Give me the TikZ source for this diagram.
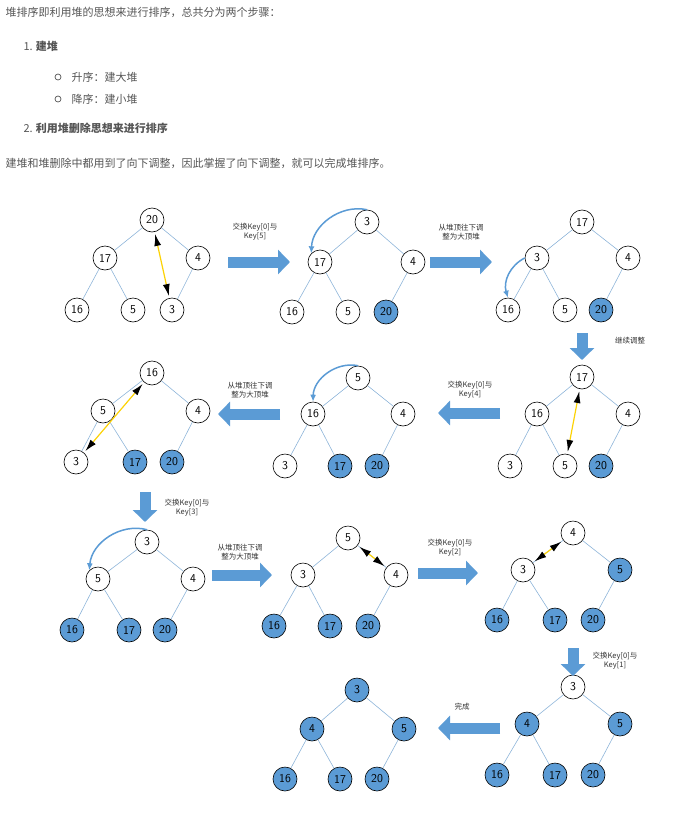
\documentclass[tikz,border=0pt]{standalone}
\usepackage{fontspec}
\newfontfamily\cjk{Noto Sans CJK SC}
\usetikzlibrary{arrows.meta}
\definecolor{bl}{HTML}{5B9BD5}
\definecolor{ed}{HTML}{8DB4D9}
\definecolor{tx}{HTML}{555555}
\newcommand{\edg}[1]{\draw[edge] (#11)--(#12) (#11)--(#13) (#12)--(#14) (#12)--(#15) (#13)--(#16);}
\begin{document}
\begin{tikzpicture}[x=1pt,y=-1pt,
  nd/.style={circle,draw=black,line width=0.6pt,fill=white,minimum size=24pt,inner sep=0pt,font=\fontsize{12}{12}\selectfont\sffamily},
  fd/.style={nd,fill=bl},
  edge/.style={ed,line width=0.6pt},
  big/.style={bl,line width=11pt,-{Triangle[length=12pt,width=24pt]}},
  lab/.style={font=\cjk\fontsize{7.5}{9}\selectfont,align=center,text=black!80},
  sw/.style={yellow!70!orange,line width=1.2pt,{Latex[black,length=12pt,width=7pt]}-{Latex[black,length=12pt,width=7pt]},shorten <=2pt,shorten >=2pt},
  cv/.style={bl,line width=1.5pt,-{Latex[length=7pt,width=6pt]}},
  bul/.style={circle,draw=tx,line width=0.7pt,minimum size=6pt,inner sep=0pt},
  t/.style={anchor=west,text=tx,font=\cjk\fontsize{11}{13}\selectfont}]
\useasboundingbox (0,0) rectangle (680,814);
\node[t] (l1) at (2,12) {堆排序即利用堆的思想来进行排序，总共分为两个步骤：};
\node[t] (l2) at (20,46) {1. \textbf{建堆}};
\node[bul] (b1x) at (58,77) {};
\node[t] (l3) at (68,77) {升序：建大堆};
\node[bul] (b2x) at (58,99) {};
\node[t] (l4) at (68,99) {降序：建小堆};
\node[t] (l5) at (20,128) {2. \textbf{利用堆删除思想来进行排序}};
\node[t] (l6) at (2,163) {建堆和堆删除中都用到了向下调整，因此掌握了向下调整，就可以完成堆排序。};
% T1
\node[nd] (a1) at (152,220) {20}; \node[nd] (a2) at (105,258) {17}; \node[nd] (a3) at (198,258) {4};
\node[nd] (a4) at (77,310) {16}; \node[nd] (a5) at (133,310) {5}; \node[nd] (a6) at (172,310) {3};
% T2
\node[nd] (b1) at (367,222) {3}; \node[nd] (b2) at (320,262) {17}; \node[nd] (b3) at (413,262) {4};
\node[nd] (b4) at (292,312) {16}; \node[nd] (b5) at (348,312) {5}; \node[fd] (b6) at (386,312) {20};
% T3
\node[nd] (c1) at (582,222) {17}; \node[nd] (c2) at (537,258) {3}; \node[nd] (c3) at (628,258) {4};
\node[nd] (c4) at (508,310) {16}; \node[nd] (c5) at (565,310) {5}; \node[fd] (c6) at (601,310) {20};
% T4
\node[nd] (d1) at (582,377) {17}; \node[nd] (d2) at (537,414) {16}; \node[nd] (d3) at (628,414) {4};
\node[nd] (d4) at (510,466) {3}; \node[nd] (d5) at (565,466) {5}; \node[fd] (d6) at (601,466) {20};
% T5
\node[nd] (e1) at (358,378) {5}; \node[nd] (e2) at (313,414) {16}; \node[nd] (e3) at (403,414) {4};
\node[nd] (e4) at (285,466) {3}; \node[fd] (e5) at (340,466) {17}; \node[fd] (e6) at (377,466) {20};
% T6
\node[nd] (f1) at (152,373) {16}; \node[nd] (f2) at (103,411) {5}; \node[nd] (f3) at (198,411) {4};
\node[nd] (f4) at (76,462) {3}; \node[fd] (f5) at (135,462) {17}; \node[fd] (f6) at (172,462) {20};
% T7
\node[nd] (g1) at (147,542) {3}; \node[nd] (g2) at (98,579) {5}; \node[nd] (g3) at (193,579) {4};
\node[fd] (g4) at (72,630) {16}; \node[fd] (g5) at (129,630) {17}; \node[fd] (g6) at (165,630) {20};
% T8
\node[nd] (h1) at (348,538) {5}; \node[nd] (h2) at (303,575) {3}; \node[nd] (h3) at (396,575) {4};
\node[fd] (h4) at (274,626) {16}; \node[fd] (h5) at (330,626) {17}; \node[fd] (h6) at (368,626) {20};
% T9
\node[nd] (i1) at (573,533) {4}; \node[nd] (i2) at (523,570) {3}; \node[fd] (i3) at (620,570) {5};
\node[fd] (i4) at (497,620) {16}; \node[fd] (i5) at (555,620) {17}; \node[fd] (i6) at (593,620) {20};
% T10
\node[nd] (j1) at (573,687) {3}; \node[fd] (j2) at (527,724) {4}; \node[fd] (j3) at (620,724) {5};
\node[fd] (j4) at (497,775) {16}; \node[fd] (j5) at (555,775) {17}; \node[fd] (j6) at (593,775) {20};
% T11
\node[fd] (k1) at (357,690) {3}; \node[fd] (k2) at (312,729) {4}; \node[fd] (k3) at (404,729) {5};
\node[fd] (k4) at (285,779) {16}; \node[fd] (k5) at (340,779) {17}; \node[fd] (k6) at (377,779) {20};
\foreach \p in {a,b,c,d,e,f,g,h,i,j,k}{\edg{\p}}
% swap arrows
\draw[sw] (a1) -- (a6);
\draw[sw] (d1) -- (d5);
\draw[sw] (f1) -- (f4);
\draw[sw] (h1) -- (h3);
\draw[sw] (i1) -- (i2);
% curved adjust arrows
\draw[cv] (b1.north) to[bend right=50] (b2.north west);
\draw[cv] (c2.west) to[bend right=40] (c4.north);
\draw[cv] (e1.north) to[bend right=50] (e2.north);
\draw[cv] (g1.north) to[bend right=50] (g2.north west);
% big arrows
\coordinate (s1) at (228,262); \coordinate (e1x) at (290,262);
\draw[big] (s1) -- (e1x);
\node[lab] (n1) at (255,232) {交换Key[0]与\\Key[5]};
\coordinate (s2) at (430,262); \coordinate (e2x) at (492,262);
\draw[big] (s2) -- (e2x);
\node[lab] (n2) at (461,232) {从堆顶往下调\\整为大顶堆};
\coordinate (s3) at (582,333); \coordinate (e3x) at (582,360);
\draw[big] (s3) -- (e3x);
\node[lab] (n3) at (630,341) {继续调整};
\coordinate (s4) at (500,413); \coordinate (e4x) at (438,413);
\draw[big] (s4) -- (e4x);
\node[lab] (n4) at (470,390) {交换Key[0]与\\Key[4]};
\coordinate (s5) at (280,414); \coordinate (e5x) at (218,414);
\draw[big] (s5) -- (e5x);
\node[lab] (n5) at (250,390) {从堆顶往下调\\整为大顶堆};
\coordinate (s6) at (145,492); \coordinate (e6x) at (145,522);
\draw[big] (s6) -- (e6x);
\node[lab] (n6) at (187,508) {交换Key[0]与\\Key[3]};
\coordinate (s7) at (212,575); \coordinate (e7x) at (272,575);
\draw[big] (s7) -- (e7x);
\node[lab] (n7) at (240,552) {从堆顶往下调\\整为大顶堆};
\coordinate (s8) at (418,573); \coordinate (e8x) at (478,573);
\draw[big] (s8) -- (e8x);
\node[lab] (n8) at (450,548) {交换Key[0]与\\Key[2]};
\coordinate (s9) at (573,648); \coordinate (e9x) at (573,676);
\draw[big] (s9) -- (e9x);
\node[lab] (n9) at (615,661) {交换Key[0]与\\Key[1]};
\coordinate (s10) at (500,728); \coordinate (e10x) at (438,728);
\draw[big] (s10) -- (e10x);
\node[lab] (n10) at (462,707) {完成};
\end{tikzpicture}
\end{document}
